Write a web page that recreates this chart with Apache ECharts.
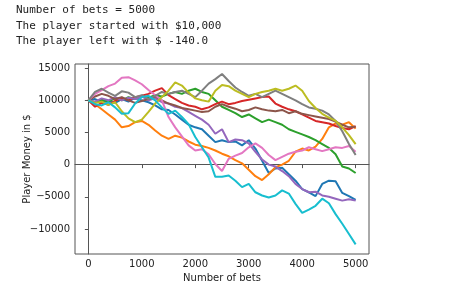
<!DOCTYPE html>
<html><head><meta charset="utf-8">
<script src="https://cdn.jsdelivr.net/npm/echarts@6/dist/echarts.min.js"></script>
<style>html,body{margin:0;padding:0;background:#fff}#c{width:474px;height:294px}</style>
</head><body><div id="c"></div>
<script>
const bets = [0,125,250,375,500,625,750,875,1000,1125,1250,1375,1500,1625,1750,1875,2000,2125,2250,2375,2500,2625,2750,2875,3000,3125,3250,3375,3500,3625,3750,3875,4000,4125,4250,4375,4500,4625,4750,4875,5000];
const blue   = [10000,10200,9700,9900,9600,10200,9800,10400,10000,9700,9200,8600,8500,7800,7000,6200,5800,5500,4500,3500,3800,3500,3600,3000,3800,2500,600,-1300,-600,-500,-1500,-2500,-3800,-4300,-4900,-3000,-2500,-2600,-4400,-4900,-5500];
const orange = [10000,9400,8600,7800,7000,5800,6000,6600,6800,6200,5300,4500,4000,4500,4200,3600,3100,2900,2600,2200,1700,1300,700,200,-800,-1800,-2400,-1500,-400,0,600,2000,2500,2200,2800,4000,5800,6400,6200,6600,5600];
const green  = [10000,9700,10100,9800,10300,10000,10500,10200,10700,10400,10800,10600,11000,11300,11000,11500,11800,11300,11000,10000,9000,8500,8000,7400,7800,7200,6600,7000,6600,6200,5500,5100,4700,4300,3800,3200,2600,1600,-300,-600,-1300];
const red    = [10000,9000,9600,9300,9900,10400,10000,10500,10700,11000,11500,11900,10800,10200,9600,9200,9000,8600,8900,9400,9800,9400,9600,9900,10100,10300,10500,10600,9500,9000,8600,8300,7800,7300,6800,6600,6400,6000,5700,5500,6000];
const purple = [10000,9800,10300,10000,10500,10000,10400,10200,10600,10000,10300,9700,9500,9000,8800,8200,7600,7000,6200,4800,5500,3500,3900,3800,3300,2000,800,0,-300,-1000,-1800,-3000,-3800,-4300,-4200,-4800,-5000,-5300,-5600,-5400,-5600];
const brown  = [10000,10600,11000,10700,10200,10500,10000,9600,9900,10200,10600,10000,9500,9200,8800,8600,8400,8200,8300,9000,9400,9000,8700,8300,8500,8900,8600,8400,8300,8500,8000,8300,7900,7700,7500,7300,7100,6700,6200,5800,5900];
const pink   = [10000,11000,11600,12200,12600,13500,13600,13100,12500,11600,10800,10000,7400,5800,4400,3000,2200,2400,1600,100,-1000,900,1400,1800,2700,3300,2600,1500,700,1200,1700,2000,2200,2700,2400,2100,2400,2700,2600,2900,2000];
const gray   = [10000,11300,11800,11200,10700,11400,11200,10500,10800,10200,10700,11300,11000,11300,11500,11000,10500,11500,12600,13300,14100,13000,12000,11300,10700,11000,10500,11000,11500,11000,10500,10000,9400,8900,8700,8400,7800,6800,5200,3200,1500];
const olive  = [10000,9600,9800,9300,9700,8300,7200,6600,7000,8200,9500,10500,11500,12800,12300,11200,10300,10000,9800,11500,12400,12200,11500,11000,10500,11000,11300,11500,11800,11500,11800,12300,11500,9900,8800,7900,7300,6800,5800,4600,3200];
const cyan   = [10000,9400,9200,9700,8900,7900,8000,9500,10500,10700,10000,8900,7900,8400,7400,6300,4300,2700,1100,-1900,-1900,-1700,-2500,-3500,-3000,-4300,-4800,-5100,-4800,-4000,-4500,-6100,-7500,-7000,-6400,-5300,-6000,-7700,-9200,-10800,-12400];
const xTicks = [0,1000,2000,3000,4000,5000];
const yTicks = [-10000,-5000,0,5000,10000,15000];
const headerLines = ["Number of bets = 5000","The player started with $10,000","The player left with $ -140.0"];
const xTitle = 'Number of bets';
const yTitle = 'Player Money in $';

const allSeries = [blue,orange,green,red,purple,brown,pink,gray,olive,cyan];
const colors = ['#1f77b4','#ff7f0e','#2ca02c','#d62728','#9467bd','#8c564b','#e377c2','#7f7f7f','#bcbd22','#17becf'];
const fmt = v => (v<0 ? '\u2212' + Math.abs(v) : String(v));

const chart = echarts.init(document.getElementById('c'), null, {renderer:'canvas'});
const graphics = headerLines.map((t,i)=>({type:'text',left:16,top:5+i*15.2,style:{text:t,font:'11px "DejaVu Sans Mono"',fill:'#222'}}));
graphics.push({type:'text',x:27,y:159,rotation:Math.PI/2,style:{text:yTitle,font:'10px "DejaVu Sans"',fill:'#222',align:'center',verticalAlign:'middle'}});
chart.setOption({
  animation:false,
  backgroundColor:'#fff',
  grid:{left:75,right:105,top:64,bottom:40,show:true,borderColor:'#555',borderWidth:1,backgroundColor:'transparent'},
  graphic: graphics,
  xAxis:{type:'value',min:-250,max:5250,
    name:xTitle,nameLocation:'middle',nameGap:19,
    nameTextStyle:{fontFamily:'DejaVu Sans',fontSize:10,color:'#222',verticalAlign:'top'},
    axisLine:{show:true,lineStyle:{color:'#555',width:1}},
    axisTick:{show:true,length:3.5,lineStyle:{color:'#555'},customValues:xTicks},
    axisLabel:{customValues:xTicks,fontFamily:'DejaVu Sans',fontSize:10,color:'#222',margin:5,formatter:fmt},
    splitLine:{show:false}},
  yAxis:{type:'value',min:-13900,max:15650,
    axisLine:{show:true,lineStyle:{color:'#555',width:1}},
    axisTick:{show:true,length:3.5,lineStyle:{color:'#555'},customValues:yTicks},
    axisLabel:{customValues:yTicks,fontFamily:'DejaVu Sans',fontSize:10,color:'#222',margin:5,formatter:fmt},
    splitLine:{show:false}},
  series: allSeries.map((s,i)=>({type:'line',data:bets.map((b,j)=>[b,s[j]]),showSymbol:false,symbol:'none',
    lineStyle:{color:colors[i],width:2},itemStyle:{color:colors[i]},clip:true,z:2+i}))
});
</script></body></html>
